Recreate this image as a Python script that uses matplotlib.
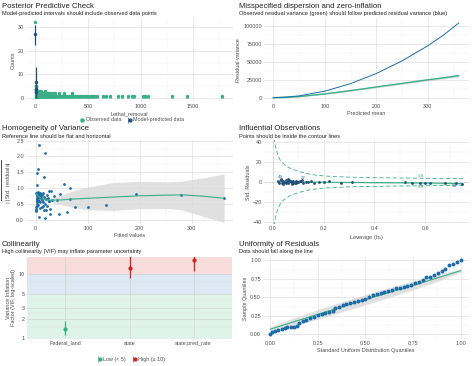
import numpy as np
import matplotlib
matplotlib.use('Agg')
import matplotlib.pyplot as plt
from matplotlib.ticker import MultipleLocator, FixedLocator, NullFormatter
from matplotlib.lines import Line2D
from matplotlib.legend_handler import HandlerTuple

plt.rcParams['font.family'] = ['Liberation Sans', 'DejaVu Sans']
plt.rcParams['mathtext.fontset'] = 'custom'
plt.rcParams['mathtext.rm'] = 'Liberation Sans'

GREEN = '#3aaf85'
BLUE = '#1b6ca8'
NAVY = '#1f4f7a'
RED = '#cd201f'
TXT = '#4d4d4d'

W, H = 474, 366

# --- Posterior predictive check ---
obs_x = [0, 1, 2, 3, 4, 5, 6, 8, 10, 12, 14, 16, 19, 22, 25, 28, 31, 35, 39, 43, 47,
         52, 57, 62, 68, 74, 80, 87, 94, 101, 108, 116, 124, 132, 141, 150, 159, 168,
         178, 188, 198, 209, 220, 231, 243, 255, 267, 280, 293, 306, 320, 334, 348, 362,
         377, 392, 407, 422, 438, 454, 470, 486, 502, 518, 535, 552, 569, 586,
         645, 668, 705, 790, 820, 885, 915, 940, 1020, 1045, 1075, 1300, 1440, 1775]
obs_n = [32, 5, 5, 4, 5, 3, 4, 3, 3, 2, 3, 2, 3, 2, 2, 3, 2, 2, 3, 2, 2,
         2, 3, 2, 2, 2, 2, 2, 3, 2, 2, 1, 2, 2, 1, 2, 1, 2,
         1, 2, 1, 1, 2, 1, 1, 1, 2, 1, 1, 1, 1, 1, 2, 1,
         1, 1, 1, 1, 1, 1, 1, 1, 1, 1, 1, 1, 1, 1,
         1, 1, 1, 1, 1, 1, 1, 1, 1, 1, 1, 1, 1, 1]
pred_x = [0, 1, 2, 3]
pred_y = [27, 7, 4, 2.5]
pred_lo = [22.5, 0, 1, 0]
pred_hi = [31, 13, 7, 5]

# --- dispersion ---
disp_mu = [0, 25, 50, 100, 150, 200, 250, 300, 330, 360]
disp_pred = [0, 900, 2500, 9000, 19500, 33500, 51000, 72000, 86500, 103500]
disp_obs = [0, 400, 1500, 5200, 9800, 14800, 19800, 24800, 27500, 30500]
disp_obs_lo = [0, 200, 1100, 4500, 8900, 13700, 18500, 23300, 25900, 28700]
disp_obs_hi = [0, 600, 1900, 5900, 10700, 15900, 21100, 26300, 29100, 32300]

# --- homogeneity of variance ---
homo_x = [1, 1, 1.5, 2, 2, 2, 2.5, 3, 3, 1, 1.5, 2, 3, 3.5, 4, 4, 4.5, 5, 5, 6, 7, 8, 9,
          10, 11, 12, 13, 14, 15, 16, 18, 20, 22, 24, 26, 28, 12, 16, 20, 25, 3, 4, 6,
          2, 5, 3, 7, 18, 16, 6, 18, 28, 45, 60, 46, 55, 65, 75, 100, 135, 193, 280, 362,
          30, 35, 40, 65, 25, 32, 22, 9, 14, 8, 11]
homo_y = [0.28, 0.35, 0.42, 0.5, 0.58, 0.64, 0.7, 0.76, 0.81, 0.86, 0.3, 0.45, 0.55, 0.62,
          0.68, 0.73, 0.79, 0.84, 0.88, 0.82, 0.86, 0.75, 0.85, 0.7, 0.83, 0.62, 0.79, 0.86,
          0.55, 0.72, 0.5, 0.65, 0.43, 0.7, 0.58, 0.35, 0.4, 0.3, 0.32, 0.6, 0.66, 0.48, 0.6,
          1.48, 1.6, 1.1, 2.35, 2.1, 1.35, 0.08, 0.05, 0.2, 0.18, 0.26, 0.82, 1.12, 1.0, 0.42,
          0.4, 0.48, 0.82, 0.8, 0.68, 0.92, 0.75, 0.62, 0.65, 0.9, 0.62, 0.8, 0.38, 0.45,
          0.55, 0.68]
homo_sx = [0, 5, 10, 20, 30, 50, 75, 100, 150, 200, 250, 280, 320, 362]
homo_sy = [0.84, 0.75, 0.68, 0.63, 0.62, 0.63, 0.66, 0.68, 0.72, 0.76, 0.78, 0.79, 0.75, 0.68]
homo_lo = [0.72, 0.66, 0.6, 0.56, 0.55, 0.48, 0.38, 0.32, 0.3, 0.35, 0.36, 0.32, 0.12, -0.08]
homo_hi = [0.96, 0.84, 0.76, 0.7, 0.69, 0.78, 0.94, 1.04, 1.18, 1.22, 1.2, 1.22, 1.32, 1.45]

# --- influential observations ---
lev = [0.02, 0.025, 0.03, 0.035, 0.04, 0.04, 0.045, 0.05, 0.05, 0.055, 0.06, 0.06, 0.065,
       0.07, 0.07, 0.075, 0.08, 0.085, 0.09, 0.09, 0.1, 0.1, 0.11, 0.115, 0.12, 0.13,
       0.14, 0.15, 0.16, 0.18, 0.2, 0.22, 0.27, 0.31, 0.52, 0.55, 0.58, 0.6, 0.62, 0.68,
       0.72, 0.745, 0.03, 0.045, 0.065, 0.08, 0.095, 0.105]
std_res = [0.5, -1.0, 2.0, -0.5, 1.0, -1.5, 0.3, 1.5, -0.8, 0.2, 2.5, -1.2, 0.8,
           -0.3, 1.2, -1.8, 0.5, -0.6, 1.0, -1.0, 0.3, -0.4, 0.7, 2.0, -0.8, 0.2,
           -0.3, 0.6, -0.5, 0.4, -0.2, 0.8, -0.6, -0.2, 0.3, -0.5, -0.8, -1.0, -0.7, -1.2,
           -1.4, -2.0, 3.0, -0.2, 1.8, -1.4, 0.1, 1.3]
infl_labels = [('49', 0.03, 4.6), ('22', 0.118, 3.6), ('63', 0.714, -4.2)]
cook_lev = [0.004, 0.01, 0.02, 0.03, 0.05, 0.07, 0.1, 0.15, 0.2, 0.3, 0.4, 0.5, 0.6, 0.7, 0.75]
cook_up = [44, 35, 26, 21, 16, 13.5, 10.5, 7.5, 6, 4.8, 4.3, 4.0, 3.7, 3.4, 3.3]
cook_dn = [-44, -35, -26, -21, -16, -13.5, -10.5, -7.5, -6, -4.8, -4.3, -4.0, -3.7, -3.4, -3.3]
infl_sx = [0.02, 0.1, 0.2, 0.4, 0.6, 0.745]
infl_sy = [0.3, 0.1, -0.2, -0.6, -1.0, -1.6]
infl_lo = [-0.6, -0.5, -0.9, -1.4, -2.0, -2.9]
infl_hi = [1.2, 0.7, 0.5, 0.2, 0.0, -0.3]

# --- collinearity ---
vif_terms = ['Federal_land', 'state', 'state:pred_rate']
vif = [1.40, 12.7, 16.5]
vif_lo = [1.14, 8.9, 11.3]
vif_hi = [1.88, 30.0, 30.0]
vif_col = [GREEN, RED, RED]

# --- uniformity of residuals ---
qq_x = [0.0, 0.01, 0.025, 0.04, 0.06, 0.075, 0.09, 0.11, 0.125, 0.14, 0.15, 0.17, 0.19,
        0.21, 0.23, 0.25, 0.27, 0.29, 0.31, 0.33, 0.34, 0.36, 0.38, 0.40, 0.42, 0.44,
        0.46, 0.48, 0.50, 0.52, 0.54, 0.56, 0.58, 0.60, 0.62, 0.64, 0.66, 0.68, 0.70,
        0.72, 0.74, 0.76, 0.78, 0.80, 0.82, 0.84, 0.86, 0.88, 0.90, 0.92, 0.94, 0.96,
        0.98, 1.0]
qq_y = [0.0, 0.03, 0.04, 0.06, 0.07, 0.09, 0.10, 0.10, 0.10, 0.11, 0.15, 0.18, 0.20,
        0.22, 0.24, 0.26, 0.28, 0.29, 0.30, 0.32, 0.35, 0.37, 0.39, 0.41, 0.43, 0.44,
        0.45, 0.47, 0.48, 0.51, 0.53, 0.54, 0.56, 0.57, 0.59, 0.60, 0.62, 0.63, 0.64,
        0.65, 0.66, 0.69, 0.71, 0.73, 0.77, 0.78, 0.80, 0.83, 0.86, 0.88, 0.94, 0.95,
        0.98, 1.0]
qq_lx = [0.0, 0.1, 0.25, 0.5, 0.75, 0.9, 1.0]
qq_ly = [0.07, 0.15, 0.27, 0.47, 0.66, 0.78, 0.86]
qq_lo = [0.04, 0.10, 0.205, 0.40, 0.60, 0.735, 0.84]
qq_hi = [0.10, 0.20, 0.335, 0.54, 0.72, 0.825, 0.88]

FS_TITLE = 5.6
FS_SUB = 4.1
FS_TICK = 3.9
FS_LAB = 4.0


def frac(x0, y0, x1, y1):
    return [x0 / W, 1 - y1 / H, (x1 - x0) / W, (y1 - y0) / H]


def style(ax):
    for s in ax.spines.values():
        s.set_visible(False)
    ax.set_axisbelow(True)
    ax.grid(True, which='major', color='#e3e3e3', lw=0.55)
    ax.grid(True, which='minor', color='#f0f0f0', lw=0.35)
    ax.tick_params(which='both', length=0, labelsize=FS_TICK, colors=TXT, pad=1.5)


def head(x, y, title, sub):
    fig.text(x / W, 1 - y / H, title, fontsize=FS_TITLE, color='#222222', va='center')
    fig.text(x / W, 1 - (y + 7.5) / H, sub, fontsize=FS_SUB, color='#222222', va='center')


def labels(ax, xl, yl):
    ax.set_xlabel(xl, fontsize=FS_LAB, color=TXT, labelpad=1.5)
    ax.set_ylabel(yl, fontsize=FS_LAB, color=TXT, labelpad=1.5)


def range_handle(c):
    return (Line2D([], [], color=c, marker='|', ls='None', markersize=4.5, mew=0.5),
            Line2D([], [], color=c, marker='o', ls='None', markersize=2.0))


fig = plt.figure(figsize=(4.74, 3.66), dpi=100)

# Panel 1
ax1 = fig.add_axes(frac(26, 18, 233, 102))
style(ax1)
ax1.vlines(obs_x[1:], 0, obs_n[1:], color=GREEN, lw=2.2)
ax1.scatter(obs_x, obs_n, color=GREEN, s=6, zorder=3, lw=0)
ax1.vlines(pred_x, pred_lo, pred_hi, color=NAVY, lw=0.9, zorder=4)
ax1.scatter(pred_x, pred_y, color=NAVY, s=6, zorder=5, lw=0)
ax1.set_xlim(-90, 1880)
ax1.set_ylim(-1.6, 33.8)
ax1.xaxis.set_major_locator(MultipleLocator(500))
ax1.xaxis.set_minor_locator(MultipleLocator(250))
ax1.yaxis.set_major_locator(MultipleLocator(10))
ax1.yaxis.set_minor_locator(MultipleLocator(5))
labels(ax1, 'Lethal_removal', 'Counts')
head(2, 6.5, 'Posterior Predictive Check',
     'Model-predicted intervals should include observed data points')
h_obs = Line2D([], [], color=GREEN, marker='o', ls='None', markersize=2.2)
fig.legend([h_obs, range_handle(NAVY)], ['Observed data', 'Model-predicted data'],
           handler_map={tuple: HandlerTuple(ndivide=None, pad=0)},
           loc='center', bbox_to_anchor=(132 / W, 1 - 120 / H), ncol=2,
           frameon=False, fontsize=FS_TICK, handlelength=0.8, handletextpad=0.4,
           columnspacing=1.0, labelcolor=TXT, borderpad=0)

# Panel 2
ax2 = fig.add_axes(frac(264, 18, 469, 102))
style(ax2)
ax2.fill_between(disp_mu, disp_obs_lo, disp_obs_hi, color='#bdbdbd', alpha=0.5, lw=0)
ax2.plot(disp_mu, disp_obs, color=GREEN, lw=1.0)
ax2.plot(disp_mu, disp_pred, color=BLUE, lw=0.7)
ax2.set_xlim(-18, 380)
ax2.set_ylim(-6000, 110500)
ax2.xaxis.set_major_locator(MultipleLocator(100))
ax2.xaxis.set_minor_locator(MultipleLocator(50))
ax2.yaxis.set_major_locator(MultipleLocator(25000))
ax2.yaxis.set_minor_locator(MultipleLocator(12500))
labels(ax2, 'Predicted mean', 'Residual variance')
head(239, 6.5, 'Misspecified dispersion and zero-inflation',
     'Observed residual variance (green) should follow predicted residual variance (blue)')

# Panel 3
ax3 = fig.add_axes(frac(26, 140, 233, 224))
style(ax3)
ax3.fill_between(homo_sx, homo_lo, homo_hi, color='#d9d9d9', alpha=0.8, lw=0)
ax3.scatter(homo_x, homo_y, color=BLUE, s=4, lw=0, zorder=3)
ax3.plot(homo_sx, homo_sy, color=GREEN, lw=0.8, zorder=4)
ax3.set_xlim(-18.6, 379)
ax3.set_ylim(-0.13, 2.52)
ax3.xaxis.set_major_locator(MultipleLocator(100))
ax3.xaxis.set_minor_locator(MultipleLocator(50))
ax3.yaxis.set_major_locator(MultipleLocator(0.5))
ax3.yaxis.set_minor_locator(MultipleLocator(0.25))
ax3.yaxis.set_major_formatter(plt.FormatStrFormatter('%.1f'))
labels(ax3, 'Fitted values', r'$\sqrt{|\mathrm{Std.\ residuals}|}$')
head(2, 128.5, 'Homogeneity of Variance', 'Reference line should be flat and horizontal')

# Panel 4
ax4 = fig.add_axes(frac(264, 140, 469, 224))
style(ax4)
ax4.axhline(0, color='#c8c8c8', lw=0.5, ls='--')
ax4.axvline(0, color='#c8c8c8', lw=0.5, ls='--')
ax4.plot(cook_lev, cook_up, color=GREEN, lw=0.6, ls=(0, (5, 3)))
ax4.plot(cook_lev, cook_dn, color=GREEN, lw=0.6, ls=(0, (5, 3)))
ax4.fill_between(infl_sx, infl_lo, infl_hi, color=GREEN, alpha=0.18, lw=0)
ax4.plot(infl_sx, infl_sy, color=GREEN, lw=0.8)
ax4.scatter(lev, std_res, color=NAVY, s=4, lw=0, zorder=3)
for t, lx, ly in infl_labels:
    ax4.text(lx, ly, t, fontsize=3.2, color=BLUE, ha='center', va='center')
ax4.text(0.585, 5.8, '0.8', fontsize=3.2, color=GREEN, ha='center', va='center')
ax4.text(0.585, -5.4, '0.8', fontsize=3.2, color=GREEN, ha='center', va='center')
ax4.set_xlim(-0.0355, 0.773)
ax4.set_ylim(-41.8, 41.8)
ax4.xaxis.set_major_locator(MultipleLocator(0.2))
ax4.xaxis.set_minor_locator(MultipleLocator(0.1))
ax4.xaxis.set_major_formatter(plt.FormatStrFormatter('%.1f'))
ax4.yaxis.set_major_locator(MultipleLocator(20))
ax4.yaxis.set_minor_locator(MultipleLocator(10))
labels(ax4, r'Leverage (h$_{\mathrm{ii}}$)', 'Std. Residuals')
head(239, 128.5, 'Influential Observations', 'Points should be inside the contour lines')

# Panel 5
ax5 = fig.add_axes(frac(27, 257, 232, 338.5))
style(ax5)
ax5.set_yscale('log')
ax5.axhspan(1, 5, color='#e0f3ea', lw=0, zorder=0)
ax5.axhspan(5, 10, color='#dce8f4', lw=0, zorder=0)
ax5.axhspan(10, 40, color='#f8dcdc', lw=0, zorder=0)
pos = np.arange(len(vif_terms)) + 1
for p, v, lo, hi, c in zip(pos, vif, vif_lo, vif_hi, vif_col):
    ax5.vlines(p, lo, hi, color=c, lw=0.9, zorder=3)
    ax5.scatter([p], [v], color=c, s=9, lw=0, zorder=4)
ax5.set_xlim(0.4, 3.6)
ax5.set_ylim(1, 18.6)
ax5.set_xticks(pos)
ax5.set_xticklabels(vif_terms)
ax5.yaxis.set_major_locator(FixedLocator([1, 2, 3, 5, 10]))
ax5.yaxis.set_minor_locator(FixedLocator([1.5, 2.5, 4, 7.5, 15]))
ax5.yaxis.set_major_formatter(plt.FormatStrFormatter('%g'))
ax5.yaxis.set_minor_formatter(NullFormatter())
ax5.grid(True, which='major', color='#d0d0d0', lw=0.45)
ax5.grid(True, which='minor', color='#e0e0e0', lw=0.3)
ax5.grid(False, which='minor', axis='x')
ax5.set_ylabel('Variance Inflation\nFactor (VIF, log-scaled)', fontsize=FS_LAB,
               color=TXT, labelpad=2, linespacing=1.0)
head(2, 244, 'Collinearity', 'High collinearity (VIF) may inflate parameter uncertainty')
fig.legend([range_handle(GREEN), range_handle(RED)], ['Low (< 5)', 'High (\u2265 10)'],
           handler_map={tuple: HandlerTuple(ndivide=None, pad=0)},
           loc='center', bbox_to_anchor=(131 / W, 1 - 359 / H), ncol=2,
           frameon=False, fontsize=FS_TICK, handlelength=0.8, handletextpad=0.4,
           columnspacing=1.0, labelcolor=TXT, borderpad=0)

# Panel 6
ax6 = fig.add_axes(frac(263, 257, 469, 339))
style(ax6)
ax6.fill_between(qq_lx, qq_lo, qq_hi, color='#d9d9d9', alpha=0.8, lw=0)
ax6.plot(qq_lx, qq_ly, color=GREEN, lw=0.8, zorder=3)
ax6.scatter(qq_x, qq_y, color=BLUE, s=8, lw=0, zorder=4)
ax6.set_xlim(-0.038, 1.044)
ax6.set_ylim(-0.063, 1.045)
ax6.xaxis.set_major_locator(MultipleLocator(0.25))
ax6.xaxis.set_minor_locator(MultipleLocator(0.125))
ax6.yaxis.set_major_locator(MultipleLocator(0.25))
ax6.yaxis.set_minor_locator(MultipleLocator(0.125))
ax6.xaxis.set_major_formatter(plt.FormatStrFormatter('%.2f'))
ax6.yaxis.set_major_formatter(plt.FormatStrFormatter('%.2f'))
labels(ax6, 'Standard Uniform Distribution Quantiles', 'Sample Quantiles')
head(239, 244, 'Uniformity of Residuals', 'Dots should fall along the line')

fig.savefig('out.png', dpi=100)
